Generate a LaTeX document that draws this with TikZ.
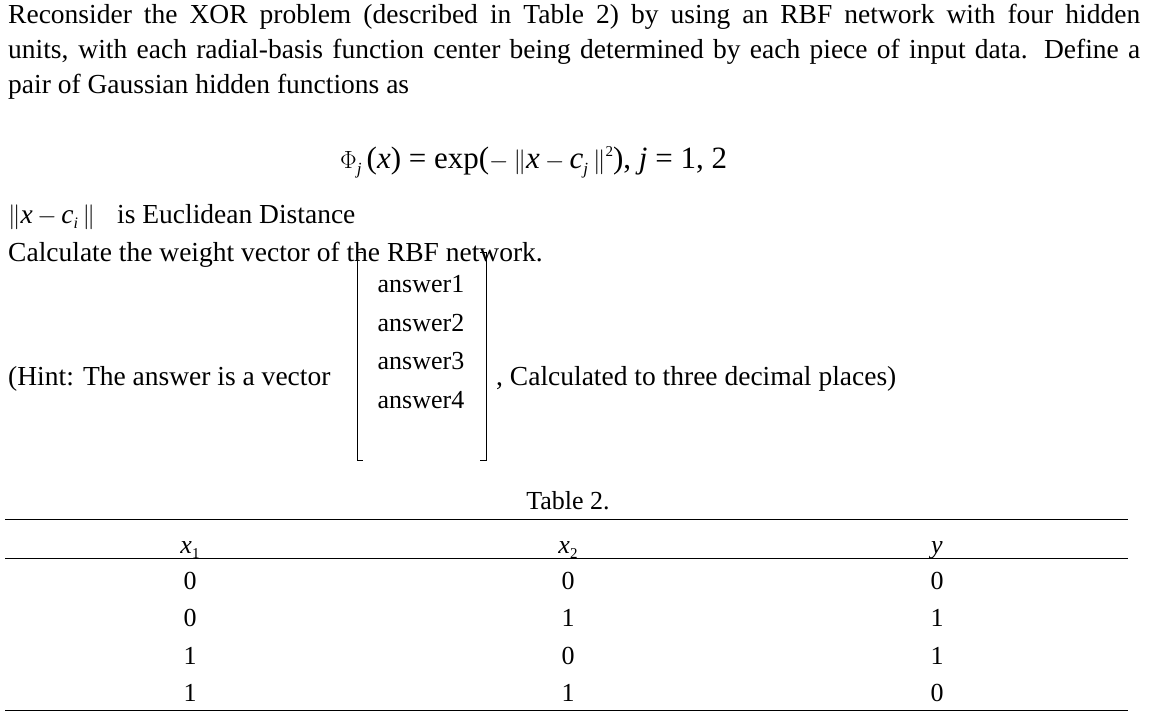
\documentclass[tikz,border=0pt]{standalone}
\usepackage{fontspec}
\setmainfont{Liberation Serif}
\newcommand{\iv}[1]{\textit{#1}}
\begin{document}
\begin{tikzpicture}[x=1pt,y=-1pt,
  txt/.style={anchor=base west,inner sep=0pt,font=\fontsize{27.5}{35}\selectfont},
  cell/.style={anchor=base,inner sep=0pt,font=\fontsize{26}{26}\selectfont},
  ans/.style={anchor=base,inner sep=0pt,font=\fontsize{26}{26}\selectfont},
  rule/.style={line width=0.9pt}]
\useasboundingbox (0,0) rectangle (1159,728);
\node[txt,anchor=north west,text width=1132pt,align=justify] (p) at (8,4)
 {Reconsider the XOR problem (described in Table 2) by using an RBF network with four hidden\linebreak units, with each radial-basis function center being determined by each piece of input data. Define a\linebreak pair of Gaussian hidden functions as};
\node[txt,font=\fontsize{31}{34}\selectfont] (f) at (340,168) {$\Phi$\raisebox{-6pt}{\fontsize{17}{17}\selectfont\iv{j}}\,(\iv{x}) = exp($-$\,$\Vert$\iv{x}\,$-$\,\iv{c}\raisebox{-6pt}{\fontsize{17}{17}\selectfont\iv{j}}\,$\Vert$\raisebox{12pt}{\fontsize{15}{15}\selectfont 2}), \iv{j} = 1, 2};
\node[txt] (e) at (8,223) {$\Vert$\iv{x}\,$-$\,\iv{c}\raisebox{-5pt}{\fontsize{16}{16}\selectfont\iv{i}}\,$\Vert$\;\; is Euclidean Distance};
\node[txt] (c) at (8,261) {Calculate the weight vector of the RBF network.};
\node[txt] (h) at (8,385) {(Hint: The answer is a vector};
\node[ans] (a1) at (421,292) {answer1};
\node[ans] (a2) at (421,331) {answer2};
\node[ans] (a3) at (421,369) {answer3};
\node[ans] (a4) at (421,408) {answer4};
\coordinate (lt) at (357,252); \coordinate (lb) at (357,460);
\coordinate (rt) at (486,252); \coordinate (rb) at (486,460);
\draw[line width=1pt] ([xshift=6pt]lt) -- (lt) -- (lb) -- ([xshift=6pt]lb);
\draw[line width=1pt] ([xshift=-6pt]rt) -- (rt) -- (rb) -- ([xshift=-6pt]rb);
\node[txt] (h2) at (496,385) {, Calculated to three decimal places)};
\node[cell] (t) at (568,509) {Table 2.};
\draw[rule] (5,519) -- (1128,519);
\draw[rule] (5,558) -- (1128,558);
\draw[rule] (5,710) -- (1128,710);
\node[cell] (h1) at (190,553) {\iv{x}\raisebox{-5pt}{\fontsize{15}{15}\selectfont 1}};
\node[cell] (h2x) at (568,553) {\iv{x}\raisebox{-5pt}{\fontsize{15}{15}\selectfont 2}};
\node[cell] (hy) at (937,553) {\iv{y}};
\foreach \r/\a/\b/\c in {589/0/0/0, 626/0/1/1, 664/1/0/1, 701/1/1/0}{
  \node[cell] at (190,\r) {\a};
  \node[cell] at (568,\r) {\b};
  \node[cell] at (937,\r) {\c};
}
\end{tikzpicture}
\end{document}
